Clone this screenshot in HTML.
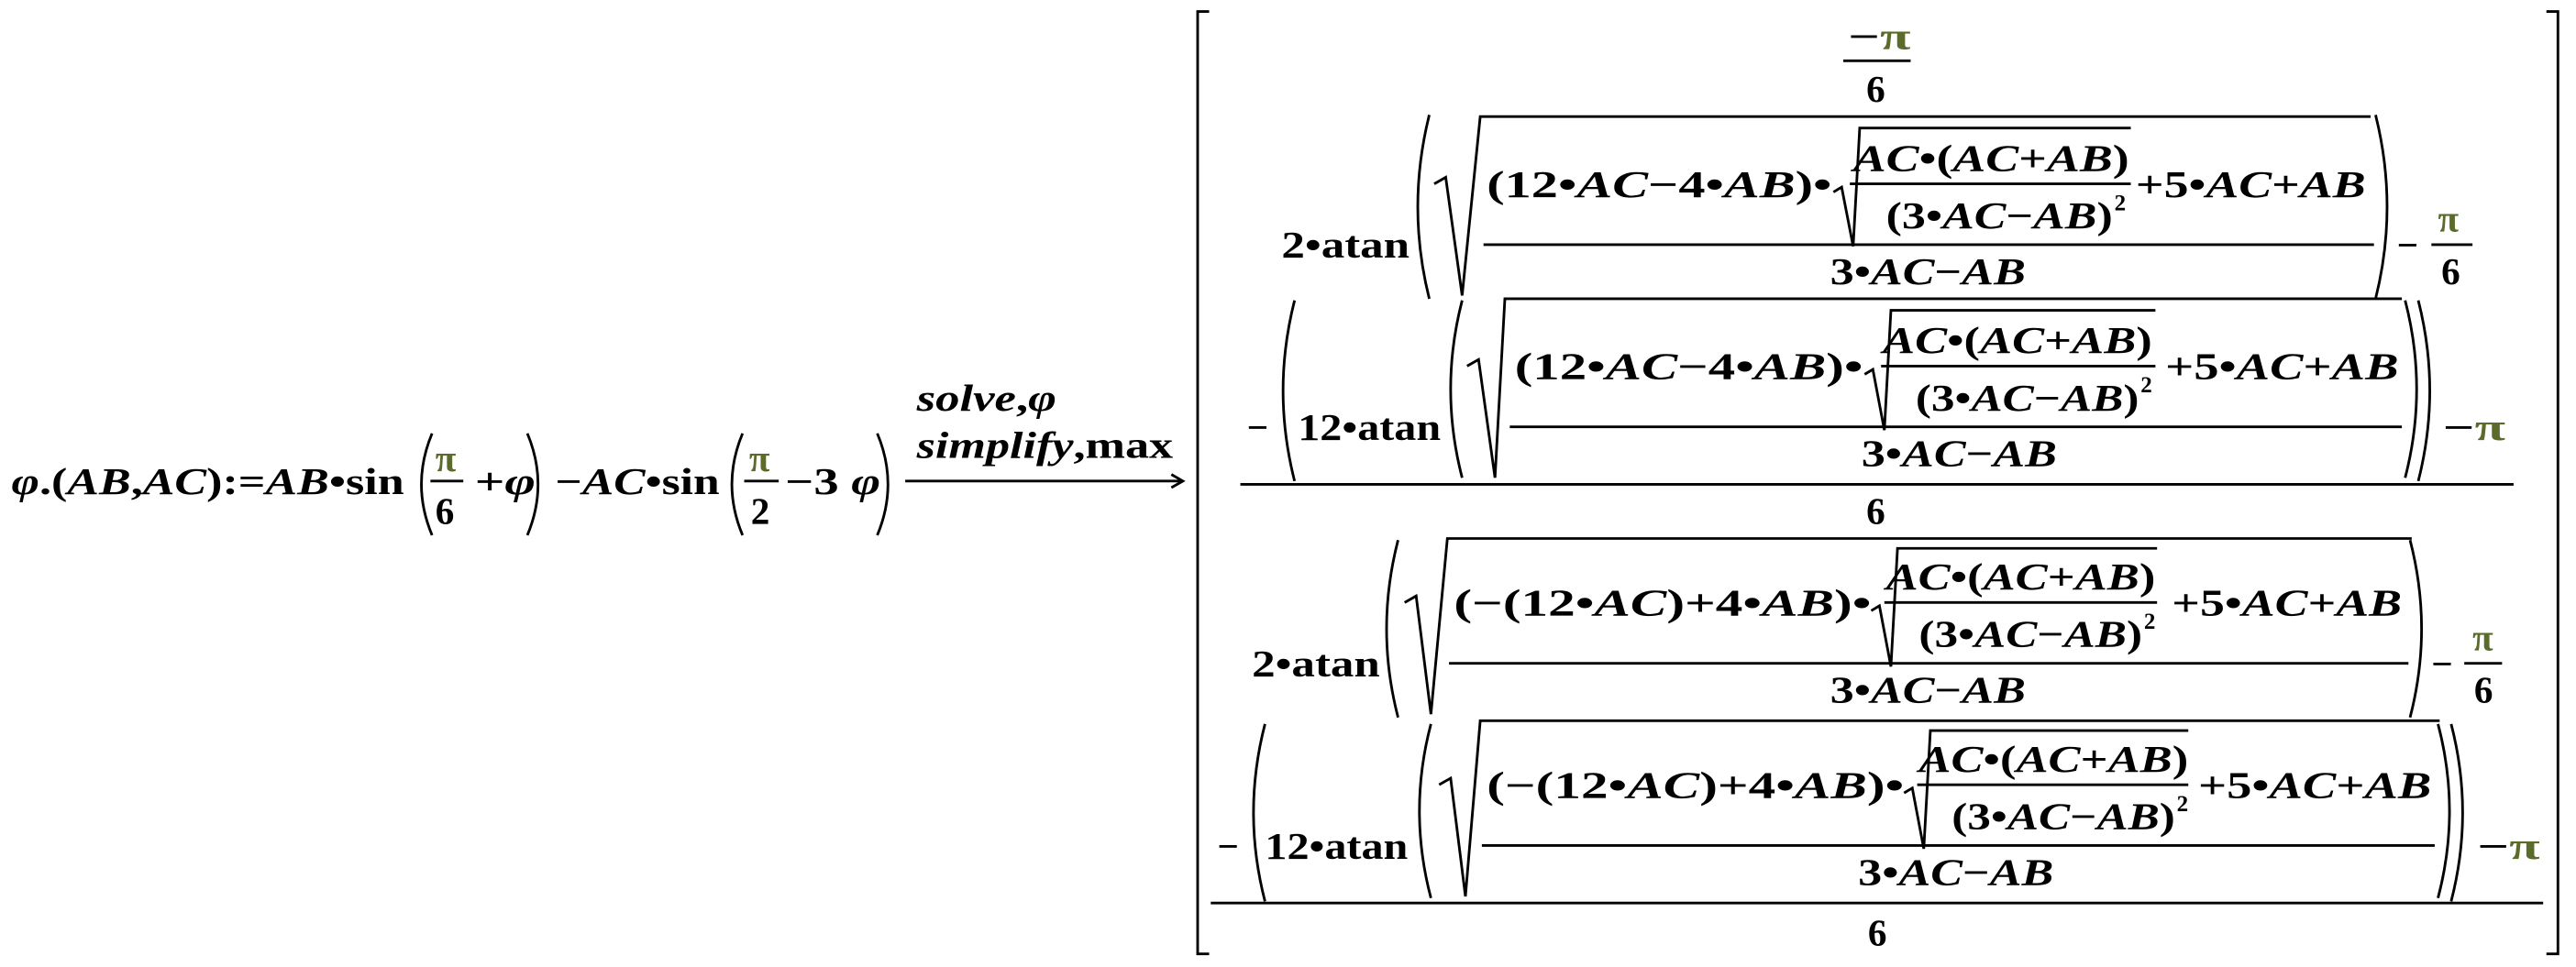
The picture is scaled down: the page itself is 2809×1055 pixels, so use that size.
<!DOCTYPE html>
<html><head><meta charset="utf-8"><style>
html,body{margin:0;padding:0;background:#fff;}
svg{display:block;}
text{font-family:"Liberation Serif",serif;font-size:23px;font-weight:bold;fill:#000;}
.i{font-style:italic;}
.g{fill:#5b6b2b;}
.s{font-size:14px;}
path,line{stroke:#000;stroke-width:1.6;fill:none;}
</style></head><body>
<svg width="2809" height="1055" viewBox="0 0 1568 589" preserveAspectRatio="none" xmlns="http://www.w3.org/2000/svg">
<!-- left definition -->
<text x="7" y="301" textLength="239" lengthAdjust="spacingAndGlyphs"><tspan class="i">φ</tspan>.(<tspan class="i">AB</tspan>,<tspan class="i">AC</tspan>):=<tspan class="i">AB</tspan>•sin</text>
<path d="M263 264 Q250 295 263 326"/>
<text x="265" y="287" class="g">π</text><line x1="262" y1="293" x2="282" y2="293"/><text x="265" y="319">6</text>
<text x="289" y="301" textLength="37" lengthAdjust="spacingAndGlyphs">+<tspan class="i">φ</tspan></text>
<path d="M321 264 Q334 295 321 326"/>
<text x="338" y="301" textLength="100" lengthAdjust="spacingAndGlyphs">−<tspan class="i">AC</tspan>•sin</text>
<path d="M452 264 Q439 295 452 326"/>
<text x="456" y="287" class="g">π</text><line x1="453" y1="293" x2="474" y2="293"/><text x="457" y="319">2</text>
<text x="478" y="301" textLength="58" lengthAdjust="spacingAndGlyphs">−3 <tspan class="i">φ</tspan></text>
<path d="M534 264 Q547 295 534 326"/>
<text x="558" y="250" textLength="85" lengthAdjust="spacingAndGlyphs"><tspan class="i">solve</tspan>,<tspan class="i">φ</tspan></text>
<text x="558" y="279" textLength="156" lengthAdjust="spacingAndGlyphs"><tspan class="i">simplify</tspan>,max</text>
<line x1="551" y1="293" x2="719" y2="293"/><path d="M713 289 L720 293 L713 297"/>
<!-- brackets -->
<path d="M736 7 L729 7 L729 581 L736 581"/>
<path d="M1550 7 L1557 7 L1557 581 L1550 581"/>
<!-- row 1 -->
<text x="1125" y="30" textLength="38" lengthAdjust="spacingAndGlyphs">−<tspan class="g">π</tspan></text>
<line x1="1122" y1="37" x2="1163" y2="37"/>
<text x="1136" y="62">6</text>
<!-- row 2 -->
<text x="780" y="157" textLength="78" lengthAdjust="spacingAndGlyphs">2•atan</text>
<path d="M870 70 Q856 126 870 182"/>
<path d="M873 112 L880 108 L890 180 L901 71 L1443 71"/>
<text x="905" y="120" textLength="210" lengthAdjust="spacingAndGlyphs">(12•<tspan class="i">AC</tspan>−4•<tspan class="i">AB</tspan>)•</text>
<path d="M1116 117 L1121 114 L1128 150 L1132 78 L1297 78"/>
<text x="1128" y="104" textLength="168" lengthAdjust="spacingAndGlyphs"><tspan class="i">AC</tspan>•(<tspan class="i">AC</tspan>+<tspan class="i">AB</tspan>)</text>
<line x1="1126" y1="112" x2="1297" y2="112"/>
<text x="1148" y="139" textLength="138" lengthAdjust="spacingAndGlyphs">(3•<tspan class="i">AC</tspan>−<tspan class="i">AB</tspan>)</text><text x="1287" y="128" class="s">2</text>
<text x="1300" y="120" textLength="140" lengthAdjust="spacingAndGlyphs">+5•<tspan class="i">AC</tspan>+<tspan class="i">AB</tspan></text>
<line x1="903" y1="149" x2="1445" y2="149"/>
<text x="1114" y="173" textLength="119" lengthAdjust="spacingAndGlyphs">3•<tspan class="i">AC</tspan>−<tspan class="i">AB</tspan></text>
<path d="M1446 70 Q1460 126 1446 182"/>
<text x="1459" y="157">−</text>
<text x="1484" y="141" class="g">π</text><line x1="1480" y1="149" x2="1505" y2="149"/><text x="1486" y="173">6</text>
<!-- row 3 -->
<text x="759" y="268">−</text>
<path d="M788 183 Q774 238 788 293"/>
<text x="790" y="268" textLength="87" lengthAdjust="spacingAndGlyphs">12•atan</text>
<path d="M890 183 Q876 237 890 291"/>
<path d="M893 223 L900 219 L910 291 L916 182 L1462 182"/>
<text x="922" y="231" textLength="212" lengthAdjust="spacingAndGlyphs">(12•<tspan class="i">AC</tspan>−4•<tspan class="i">AB</tspan>)•</text>
<path d="M1135 228 L1140 225 L1147 262 L1151 189 L1312 189"/>
<text x="1146" y="215" textLength="164" lengthAdjust="spacingAndGlyphs"><tspan class="i">AC</tspan>•(<tspan class="i">AC</tspan>+<tspan class="i">AB</tspan>)</text>
<line x1="1145" y1="223" x2="1312" y2="223"/>
<text x="1166" y="250" textLength="136" lengthAdjust="spacingAndGlyphs">(3•<tspan class="i">AC</tspan>−<tspan class="i">AB</tspan>)</text><text x="1303" y="239" class="s">2</text>
<text x="1318" y="231" textLength="142" lengthAdjust="spacingAndGlyphs">+5•<tspan class="i">AC</tspan>+<tspan class="i">AB</tspan></text>
<line x1="919" y1="260" x2="1462" y2="260"/>
<text x="1133" y="284" textLength="119" lengthAdjust="spacingAndGlyphs">3•<tspan class="i">AC</tspan>−<tspan class="i">AB</tspan></text>
<path d="M1464 183 Q1478 237 1464 291"/>
<path d="M1472 183 Q1486 238 1472 293"/>
<text x="1487" y="268" textLength="38" lengthAdjust="spacingAndGlyphs">−<tspan class="g">π</tspan></text>
<line x1="755" y1="295" x2="1530" y2="295"/>
<text x="1136" y="319">6</text>
<!-- row 4 -->
<text x="762" y="412" textLength="78" lengthAdjust="spacingAndGlyphs">2•atan</text>
<path d="M851 329 Q837 383 851 437"/>
<path d="M855 367 L862 363 L871 435 L881 328 L1468 328"/>
<text x="885" y="375" textLength="254" lengthAdjust="spacingAndGlyphs">(−(12•<tspan class="i">AC</tspan>)+4•<tspan class="i">AB</tspan>)•</text>
<path d="M1139 372 L1144 369 L1151 406 L1155 334 L1313 334"/>
<text x="1148" y="359" textLength="164" lengthAdjust="spacingAndGlyphs"><tspan class="i">AC</tspan>•(<tspan class="i">AC</tspan>+<tspan class="i">AB</tspan>)</text>
<line x1="1147" y1="367" x2="1313" y2="367"/>
<text x="1168" y="394" textLength="136" lengthAdjust="spacingAndGlyphs">(3•<tspan class="i">AC</tspan>−<tspan class="i">AB</tspan>)</text><text x="1305" y="383" class="s">2</text>
<text x="1322" y="375" textLength="140" lengthAdjust="spacingAndGlyphs">+5•<tspan class="i">AC</tspan>+<tspan class="i">AB</tspan></text>
<line x1="882" y1="404" x2="1466" y2="404"/>
<text x="1114" y="428" textLength="119" lengthAdjust="spacingAndGlyphs">3•<tspan class="i">AC</tspan>−<tspan class="i">AB</tspan></text>
<path d="M1467 329 Q1481 383 1467 437"/>
<text x="1480" y="412">−</text>
<text x="1505" y="396" class="g">π</text><line x1="1500" y1="404" x2="1523" y2="404"/><text x="1506" y="428">6</text>
<!-- row 5 -->
<text x="741" y="523">−</text>
<path d="M770 441 Q756 495 770 549"/>
<text x="770" y="523" textLength="87" lengthAdjust="spacingAndGlyphs">12•atan</text>
<path d="M871 441 Q857 494 871 547"/>
<path d="M876 478 L883 474 L892 546 L901 439 L1485 439"/>
<text x="905" y="486" textLength="254" lengthAdjust="spacingAndGlyphs">(−(12•<tspan class="i">AC</tspan>)+4•<tspan class="i">AB</tspan>)•</text>
<path d="M1159 483 L1164 480 L1171 517 L1175 445 L1332 445"/>
<text x="1168" y="470" textLength="164" lengthAdjust="spacingAndGlyphs"><tspan class="i">AC</tspan>•(<tspan class="i">AC</tspan>+<tspan class="i">AB</tspan>)</text>
<line x1="1167" y1="478" x2="1332" y2="478"/>
<text x="1188" y="505" textLength="136" lengthAdjust="spacingAndGlyphs">(3•<tspan class="i">AC</tspan>−<tspan class="i">AB</tspan>)</text><text x="1325" y="494" class="s">2</text>
<text x="1338" y="486" textLength="142" lengthAdjust="spacingAndGlyphs">+5•<tspan class="i">AC</tspan>+<tspan class="i">AB</tspan></text>
<line x1="902" y1="515" x2="1482" y2="515"/>
<text x="1131" y="539" textLength="119" lengthAdjust="spacingAndGlyphs">3•<tspan class="i">AC</tspan>−<tspan class="i">AB</tspan></text>
<path d="M1484 441 Q1498 494 1484 547"/>
<path d="M1492 441 Q1506 495 1492 549"/>
<text x="1508" y="523" textLength="38" lengthAdjust="spacingAndGlyphs">−<tspan class="g">π</tspan></text>
<line x1="737" y1="550" x2="1548" y2="550"/>
<text x="1137" y="576">6</text>
</svg>
</body></html>
